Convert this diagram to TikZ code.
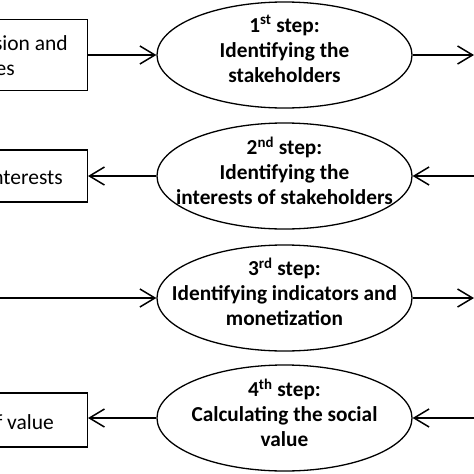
\documentclass[tikz,border=0pt]{standalone}
\usepackage{fontspec}
\setmainfont{Carlito}
\usetikzlibrary{arrows.meta,shapes.geometric}
\begin{document}
\begin{tikzpicture}[x=1pt,y=-1pt,
  stepellipse/.style={draw, ellipse, line width=1.3pt, minimum width=255pt, minimum height=106pt, inner sep=0pt},
  steptext/.style={font=\bfseries\fontsize{21.3}{25}\selectfont, align=center, inner sep=0pt},
  sidebox/.style={draw, rectangle, line width=1.3pt, minimum width=160pt, anchor=east, inner sep=0pt},
  boxtext/.style={font=\fontsize{21.5}{25}\selectfont, inner sep=0pt, anchor=base east},
  flow/.style={line width=1.5pt, -{Straight Barb[length=15pt, width=18pt, line width=1.5pt]}}
]
\useasboundingbox (0,0) rectangle (474,474);
\clip (0,0) rectangle (474,474);
\fill[white] (0,0) rectangle (474,474);

% ellipses
\node[stepellipse] (e1) at (284.5,55) {};
\node[stepellipse] (e2) at (284.5,176) {};
\node[stepellipse] (e3) at (284.5,298) {};
\node[stepellipse] (e4) at (284.5,418) {};

\node[steptext] (t1) at (284.5,49) {1\textsuperscript{st} step:\\Identifying the\\stakeholders};
\node[steptext] (t2) at (284.5,171) {2\textsuperscript{nd} step:\\Identifying the\\interests of stakeholders};
\node[steptext] (t3) at (284.5,292) {3\textsuperscript{rd} step:\\Identifying indicators and\\monetization};
\node[steptext] (t4) at (284.5,413) {4\textsuperscript{th} step:\\Calculating the social\\value};

% boxes
\node[sidebox, minimum height=71pt] (b1) at (88,55) {};
\node[sidebox, minimum height=52pt] (b2) at (88,176) {};
\node[sidebox, minimum height=54pt] (b4) at (88,420) {};

\node[boxtext] (bt1a) at (68,50) {sion and};
\node[boxtext] (bt1b) at (15,75) {es};
\node[boxtext] (bt2) at (63,184) {nterests};
\node[boxtext] (bt4) at (54,429) {f value};

% free ends
\coordinate (r1) at (474,55);
\coordinate (r2) at (474,176);
\coordinate (l3) at (-2,298);
\coordinate (r3) at (474,298);
\coordinate (r4) at (474,418);

% connectors
\draw[flow] (b1.east) -- (e1.west);
\draw[flow] (e1.east) -- (r1);
\draw[flow] (r2) -- (e2.east);
\draw[flow] (e2.west) -- (b2.east |- e2.west);
\draw[flow] (l3) -- (e3.west);
\draw[flow] (e3.east) -- (r3);
\draw[flow] (r4) -- (e4.east);
\draw[flow] (e4.west) -- (b4.east |- e4.west);
\end{tikzpicture}
\end{document}
